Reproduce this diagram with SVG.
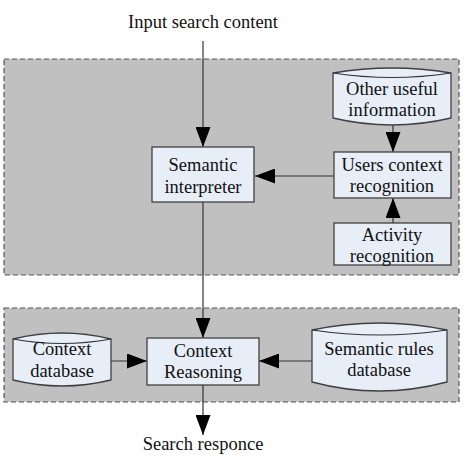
<svg xmlns="http://www.w3.org/2000/svg" width="474" height="460" viewBox="0 0 474 460">
<defs>
<marker id="ah" viewBox="0 0 20 15" refX="20" refY="7.5" markerWidth="20" markerHeight="15" markerUnits="userSpaceOnUse" orient="auto">
<path d="M0,0 L20,7.5 L0,15 Z" fill="#000"/>
</marker>
<style>
.cont{fill:#c0c0c0;stroke:#555;stroke-width:1.2;stroke-dasharray:5,3}
.box{fill:#e7eef8;stroke:#404040;stroke-width:1.3}
.t{font-family:"Liberation Serif","Times New Roman","DejaVu Serif",serif;font-size:18.5px;fill:#111;text-anchor:middle}
.c{stroke:#333;stroke-width:1.2;fill:none}
</style>
</defs>
<rect width="474" height="460" fill="#fff"/>
<g id="containers">
<rect class="cont" x="4" y="59" width="455" height="216"/>
<rect class="cont" x="4" y="308" width="455" height="94"/>
</g>
<g id="connectors">
<line class="c" x1="203" y1="41" x2="203" y2="147" marker-end="url(#ah)"/>
<line class="c" x1="334" y1="176" x2="255" y2="176" marker-end="url(#ah)"/>
<line class="c" x1="393" y1="125" x2="393" y2="152" marker-end="url(#ah)"/>
<line class="c" x1="393" y1="223" x2="393" y2="198" marker-end="url(#ah)"/>
<line class="c" x1="203" y1="202" x2="203" y2="338" marker-end="url(#ah)"/>
<line class="c" x1="111" y1="361" x2="147" y2="361" marker-end="url(#ah)"/>
<line class="c" x1="312" y1="361" x2="259" y2="361" marker-end="url(#ah)"/>
<line class="c" x1="203" y1="385" x2="203" y2="435" marker-end="url(#ah)"/>
</g>
<g id="input-label"><text class="t" x="203" y="28">Input search content</text></g>
<g id="semantic-interpreter">
<rect class="box" x="152" y="147" width="102" height="55"/>
<text class="t" x="203" y="171">Semantic</text>
<text class="t" x="203" y="193">interpreter</text>
</g>
<g id="other-info">
<path class="box" d="M333,73 Q392,63 451,73 L451,118 Q392,132 333,118 Z"/>
<path class="c" d="M333,73 Q392,82 451,73" stroke="#404040"/>
<text class="t" x="392" y="95">Other useful</text>
<text class="t" x="392" y="116">information</text>
</g>
<g id="users-context">
<rect class="box" x="334" y="152" width="117" height="46"/>
<text class="t" x="392" y="171">Users context</text>
<text class="t" x="392" y="192">recognition</text>
</g>
<g id="activity">
<rect class="box" x="334" y="223" width="117" height="42"/>
<text class="t" x="392" y="241">Activity</text>
<text class="t" x="392" y="262">recognition</text>
</g>
<g id="context-db">
<path class="box" d="M13,339 Q62,327 111,339 L111,380 Q62,392 13,380 Z"/>
<path class="c" d="M13,339 Q62,348 111,339" stroke="#404040"/>
<text class="t" x="62" y="355">Context</text>
<text class="t" x="62" y="377">database</text>
</g>
<g id="context-reasoning">
<rect class="box" x="147" y="338" width="112" height="47"/>
<text class="t" x="203" y="357">Context</text>
<text class="t" x="203" y="378">Reasoning</text>
</g>
<g id="semantic-rules">
<path class="box" d="M312,330 Q379,316 447,330 L447,382 Q379,400 312,382 Z"/>
<path class="c" d="M312,330 Q379,340 447,330" stroke="#404040"/>
<text class="t" x="379" y="355">Semantic rules</text>
<text class="t" x="379" y="376">database</text>
</g>
<g id="output-label"><text class="t" x="203" y="450">Search responce</text></g>
</svg>
